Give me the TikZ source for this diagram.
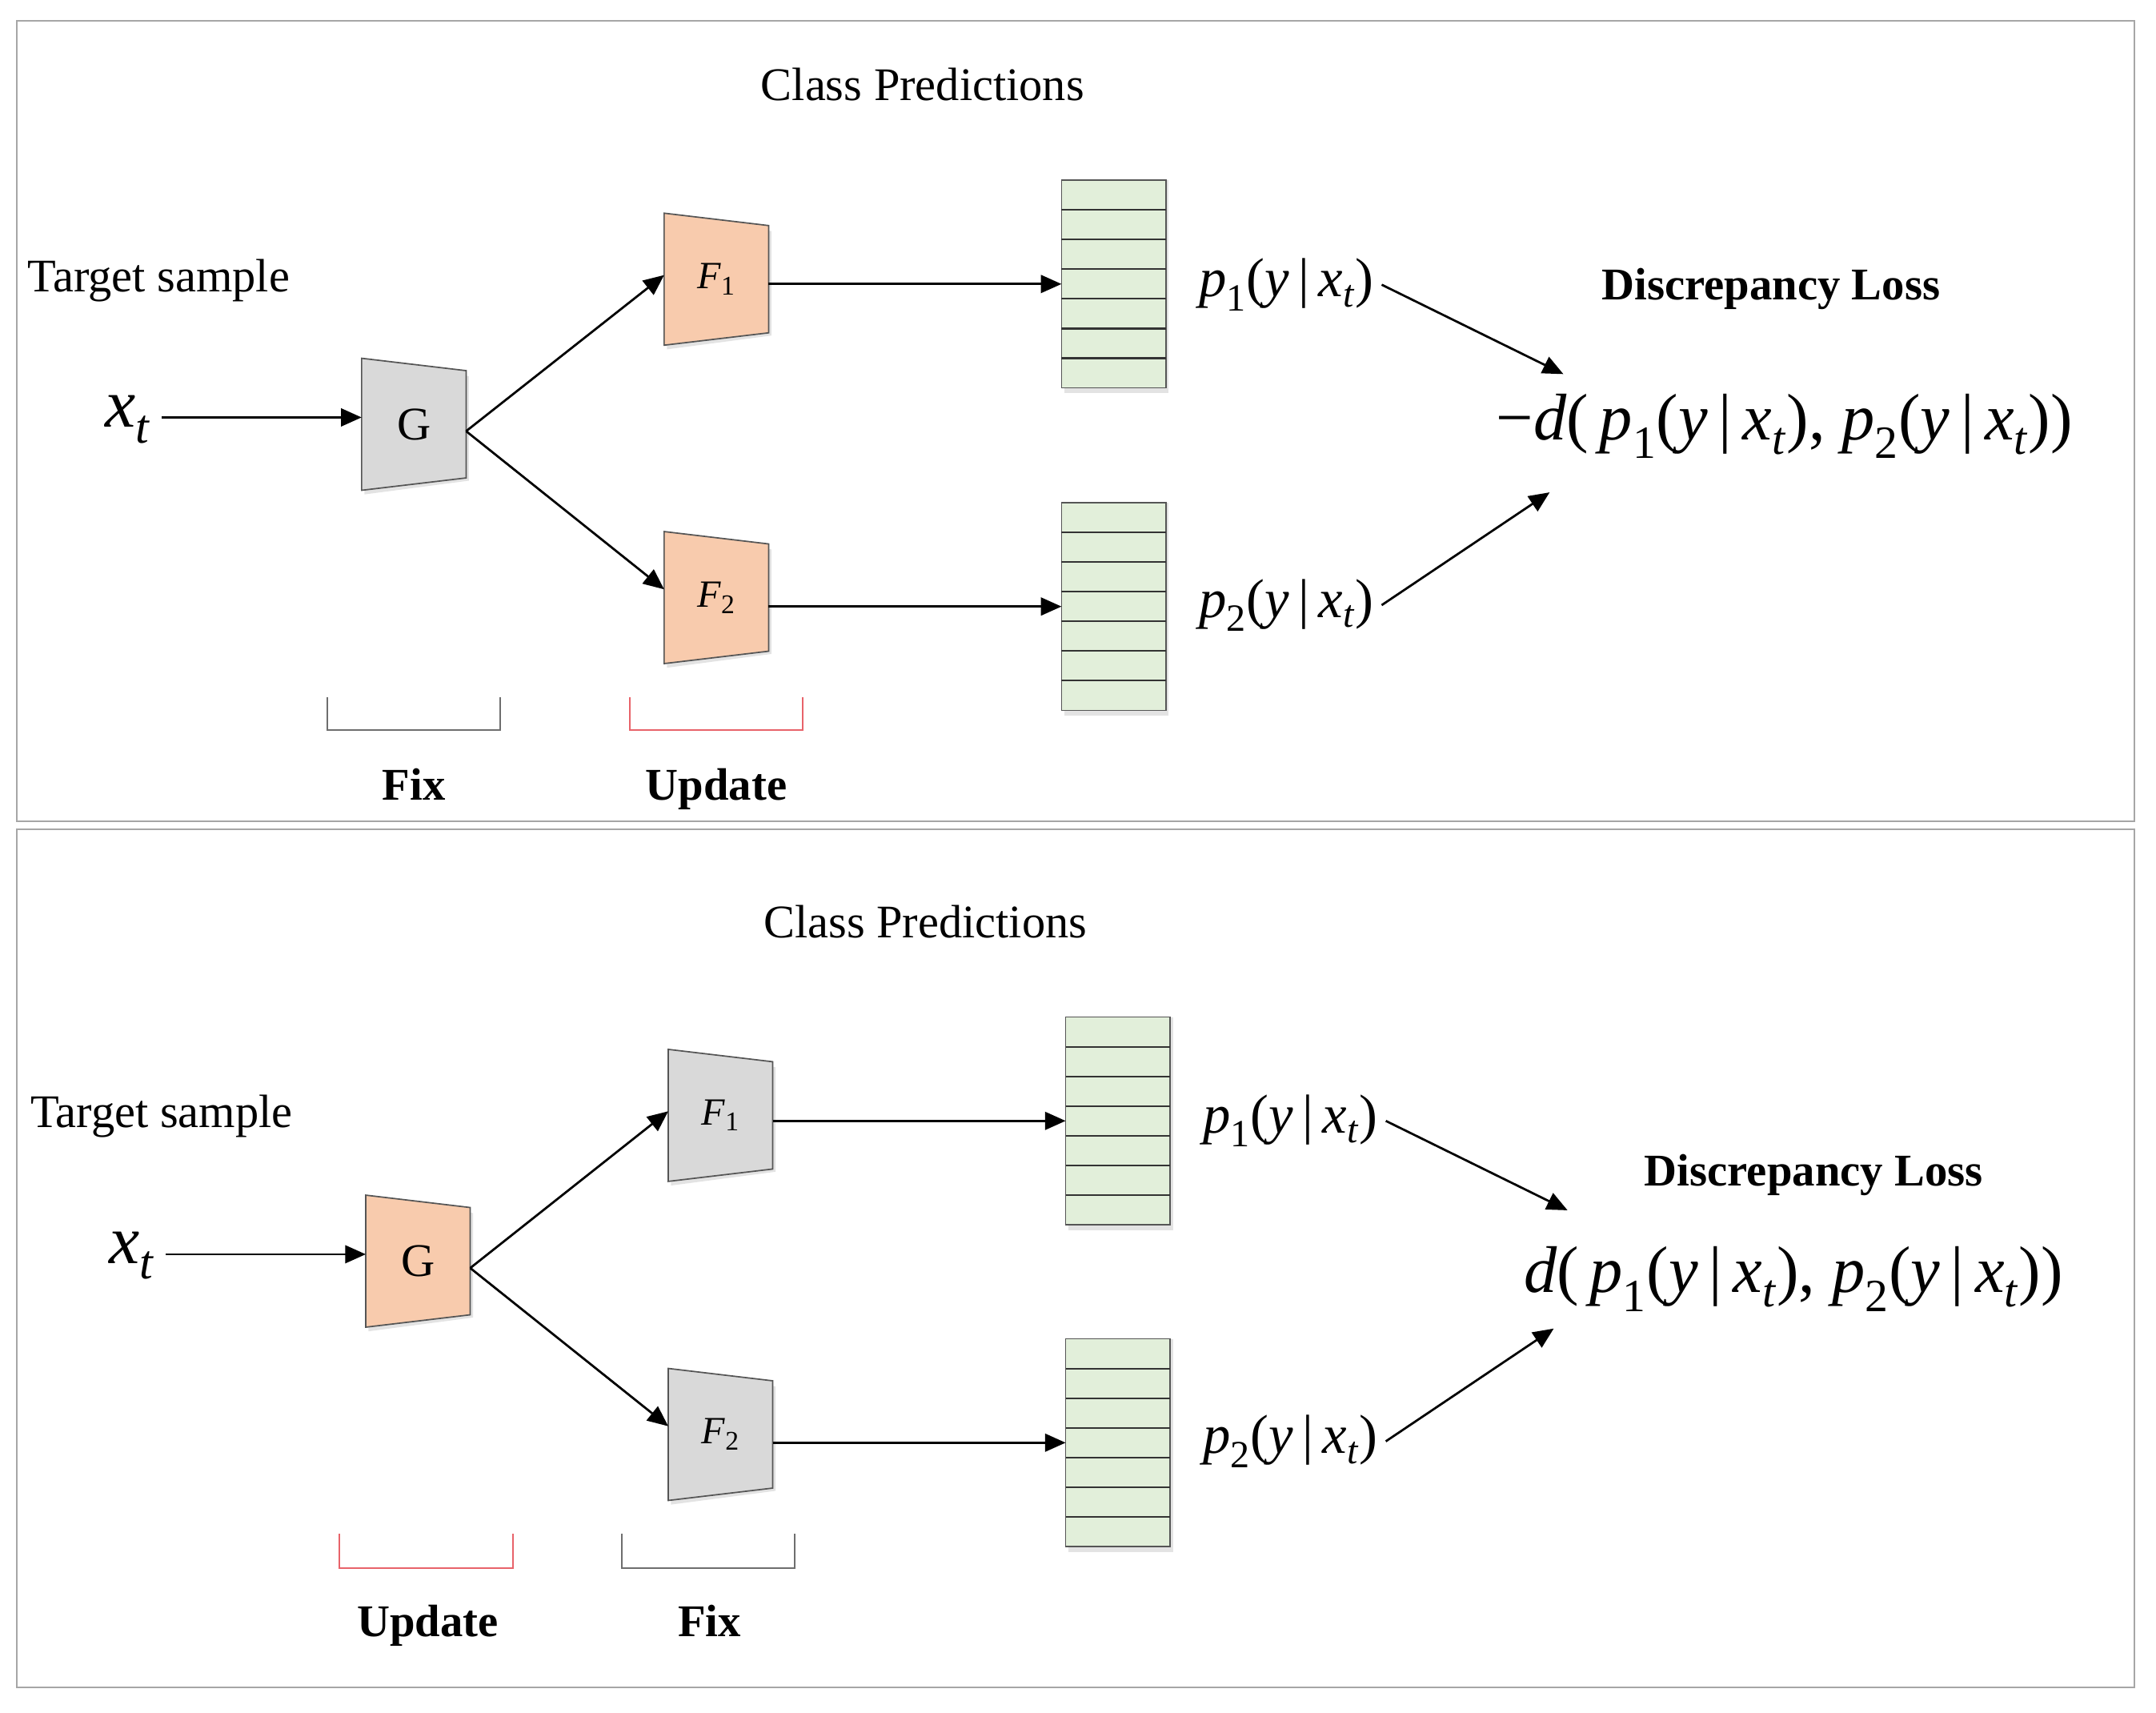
\documentclass[tikz,border=0pt]{standalone}
\usepackage{fontspec}
\setmainfont{Liberation Serif}
\usetikzlibrary{arrows.meta,calc,backgrounds}
\definecolor{framec}{HTML}{A6A6A6}
\definecolor{grayfill}{HTML}{D9D9D9}
\definecolor{orangefill}{HTML}{F8CBAD}
\definecolor{greenfill}{HTML}{E2EFDA}
\definecolor{edgec}{HTML}{555555}
\definecolor{redc}{HTML}{E8636A}
\definecolor{bracketc}{HTML}{6E6E6E}
\definecolor{shadowc}{HTML}{E3E3E3}

\newcommand\fs[1]{\fontsize{#1}{#1}\selectfont}
\newcommand\pyx[1]{\textit{p}\textsubscript{#1}(\textit{y}\,|\,\textit{x}\textsubscript{\textit{t}})}
\newcommand\trapz[2]{%
  \fill[shadowc] ([shift={(2pt,-3pt)}]#1.north west) -- ([shift={(2pt,-13pt)}]#1.north east) -- ([shift={(2pt,7pt)}]#1.south east) -- ([shift={(2pt,-3pt)}]#1.south west) -- cycle;
  \filldraw[fill=#2, draw=edgec, line width=1pt] (#1.north west) -- ([yshift=-9pt]#1.north east) -- ([yshift=9pt]#1.south east) -- (#1.south west) -- cycle;}
\newcommand\cells[1]{%
  \begin{pgfonlayer}{background}
  \fill[shadowc] ([shift={(2pt,-4pt)}]#1.south west) rectangle ([shift={(2pt,0pt)}]#1.north east);
  \end{pgfonlayer}
  \foreach \i in {1,...,6}{\draw[black!80, line width=1.3pt] ($(#1.north west)!\i/7!(#1.south west)$) -- ($(#1.north east)!\i/7!(#1.south east)$);}}

\tikzset{
  frame/.style={draw=framec, line width=1.2pt},
  arr/.style={-{Triangle[length=15pt,width=13pt]}, line width=1.6pt, black},
  trapbox/.style={minimum width=76pt, minimum height=96pt, inner sep=0pt, outer sep=0pt},
  barbox/.style={minimum width=76pt, minimum height=151pt, inner sep=0pt, outer sep=0pt, draw=edgec, fill=greenfill, line width=1pt},
  txt/.style={font=\fs{34}, inner sep=0pt},
  btxt/.style={font=\fs{33}\bfseries, inner sep=0pt},
  plabel/.style={font=\fs{40}, inner sep=0pt, anchor=west, outer sep=6pt},
  formula/.style={font=\fs{48}, inner sep=0pt, anchor=west},
  xtlabel/.style={font=\fs{50}, inner sep=0pt, outer sep=8pt},
  glabel/.style={font=\fs{34}},
  flabel/.style={font=\fs{28}},
  grayb/.style={draw=bracketc, line width=1.1pt},
  redb/.style={draw=redc, line width=1.1pt},
}

\begin{document}
\begin{tikzpicture}[x=1pt,y=-1pt]
\useasboundingbox (0,0) rectangle (1568,1245);

% ---------------- top panel ----------------
\draw[frame] (12,15) rectangle (1552,597);
\node[txt, anchor=base] (cp1) at (671,73) {Class Predictions};
\node[txt, anchor=base west] (ts1) at (20,212) {Target sample};
\node[xtlabel] (xt1) at (93,305) {\textit{x}\textsubscript{\textit{t}}};

\node[trapbox, glabel] (G1) at (301,308.5) {G};
\node[trapbox, flabel] (F11) at (521,203) {\textit{F}\textsubscript{1}};
\node[trapbox, flabel] (F21) at (521,434.5) {\textit{F}\textsubscript{2}};
\begin{pgfonlayer}{background}
\trapz{G1}{grayfill}
\trapz{F11}{orangefill}
\trapz{F21}{orangefill}
\end{pgfonlayer}

\node[barbox] (b11) at (810,206.5) {};
\cells{b11}
\node[barbox] (b21) at (810,441) {};
\cells{b21}

\node[plabel] (p11) at (866,207) {\pyx{1}};
\node[plabel] (p21) at (866,440) {\pyx{2}};
\node[btxt, anchor=base] (dl1) at (1288,218) {Discrepancy Loss};
\node[formula] (fm1) at (1088,310) {{\char"2212}\textit{d}(\,\pyx{1}, \pyx{2})};
\coordinate (t11) at (1137,272);
\coordinate (t21) at (1127,358);

\coordinate (G1in) at ([yshift=5pt]G1.west);
\coordinate (G1out) at ([yshift=-5pt]G1.east);
\draw[arr] (xt1.east |- G1in) -- (G1in);
\draw[arr] (G1out) -- ([yshift=3pt]F11.west);
\draw[arr] (G1out) -- ([yshift=6pt]F21.west);
\draw[arr] (b11.west -| F11.east) -- (b11.west);
\draw[arr] (b21.west -| F21.east) -- (b21.west);
\draw[arr] (p11.east) -- (t11);
\draw[arr] (p21.east) -- (t21);

\draw[grayb] (238,507) -- (238,531) -- (364,531) -- (364,507);
\draw[redb] (458,507) -- (458,531) -- (584,531) -- (584,507);
\node[btxt, anchor=base] (fx1) at (301,582) {Fix};
\node[btxt, anchor=base] (up1) at (521,582) {Update};

% ---------------- bottom panel ----------------
\draw[frame] (12,603) rectangle (1552,1227);
\node[txt, anchor=base] (cp2) at (673,682) {Class Predictions};
\node[txt, anchor=base west] (ts2) at (22,820) {Target sample};
\node[xtlabel] (xt2) at (96,913) {\textit{x}\textsubscript{\textit{t}}};

\node[trapbox, glabel] (G2) at (304,917) {G};
\node[trapbox, flabel] (F12) at (524,811) {\textit{F}\textsubscript{1}};
\node[trapbox, flabel] (F22) at (524,1043) {\textit{F}\textsubscript{2}};
\begin{pgfonlayer}{background}
\trapz{G2}{orangefill}
\trapz{F12}{grayfill}
\trapz{F22}{grayfill}
\end{pgfonlayer}

\node[barbox] (b12) at (813,815) {};
\cells{b12}
\node[barbox] (b22) at (813,1049) {};
\cells{b22}

\node[plabel] (p12) at (869,815) {\pyx{1}};
\node[plabel] (p22) at (869,1048) {\pyx{2}};
\node[btxt, anchor=base] (dl2) at (1319,862) {Discrepancy Loss};
\node[formula] (fm2) at (1108,930) {\textit{d}(\,\pyx{1}, \pyx{2})};
\coordinate (t12) at (1140,880);
\coordinate (t22) at (1130,966);

\coordinate (G2in) at ([yshift=5pt]G2.west);
\coordinate (G2out) at ([yshift=-5pt]G2.east);
\draw[arr] (xt2.east |- G2in) -- (G2in);
\draw[arr] (G2out) -- ([yshift=3pt]F12.west);
\draw[arr] (G2out) -- ([yshift=6pt]F22.west);
\draw[arr] (b12.west -| F12.east) -- (b12.west);
\draw[arr] (b22.west -| F22.east) -- (b22.west);
\draw[arr] (p12.east) -- (t12);
\draw[arr] (p22.east) -- (t22);

\draw[redb] (247,1115) -- (247,1140) -- (373,1140) -- (373,1115);
\draw[grayb] (452,1115) -- (452,1140) -- (578,1140) -- (578,1115);
\node[btxt, anchor=base] (up2) at (311,1190) {Update};
\node[btxt, anchor=base] (fx2) at (516,1190) {Fix};
\end{tikzpicture}
\end{document}
